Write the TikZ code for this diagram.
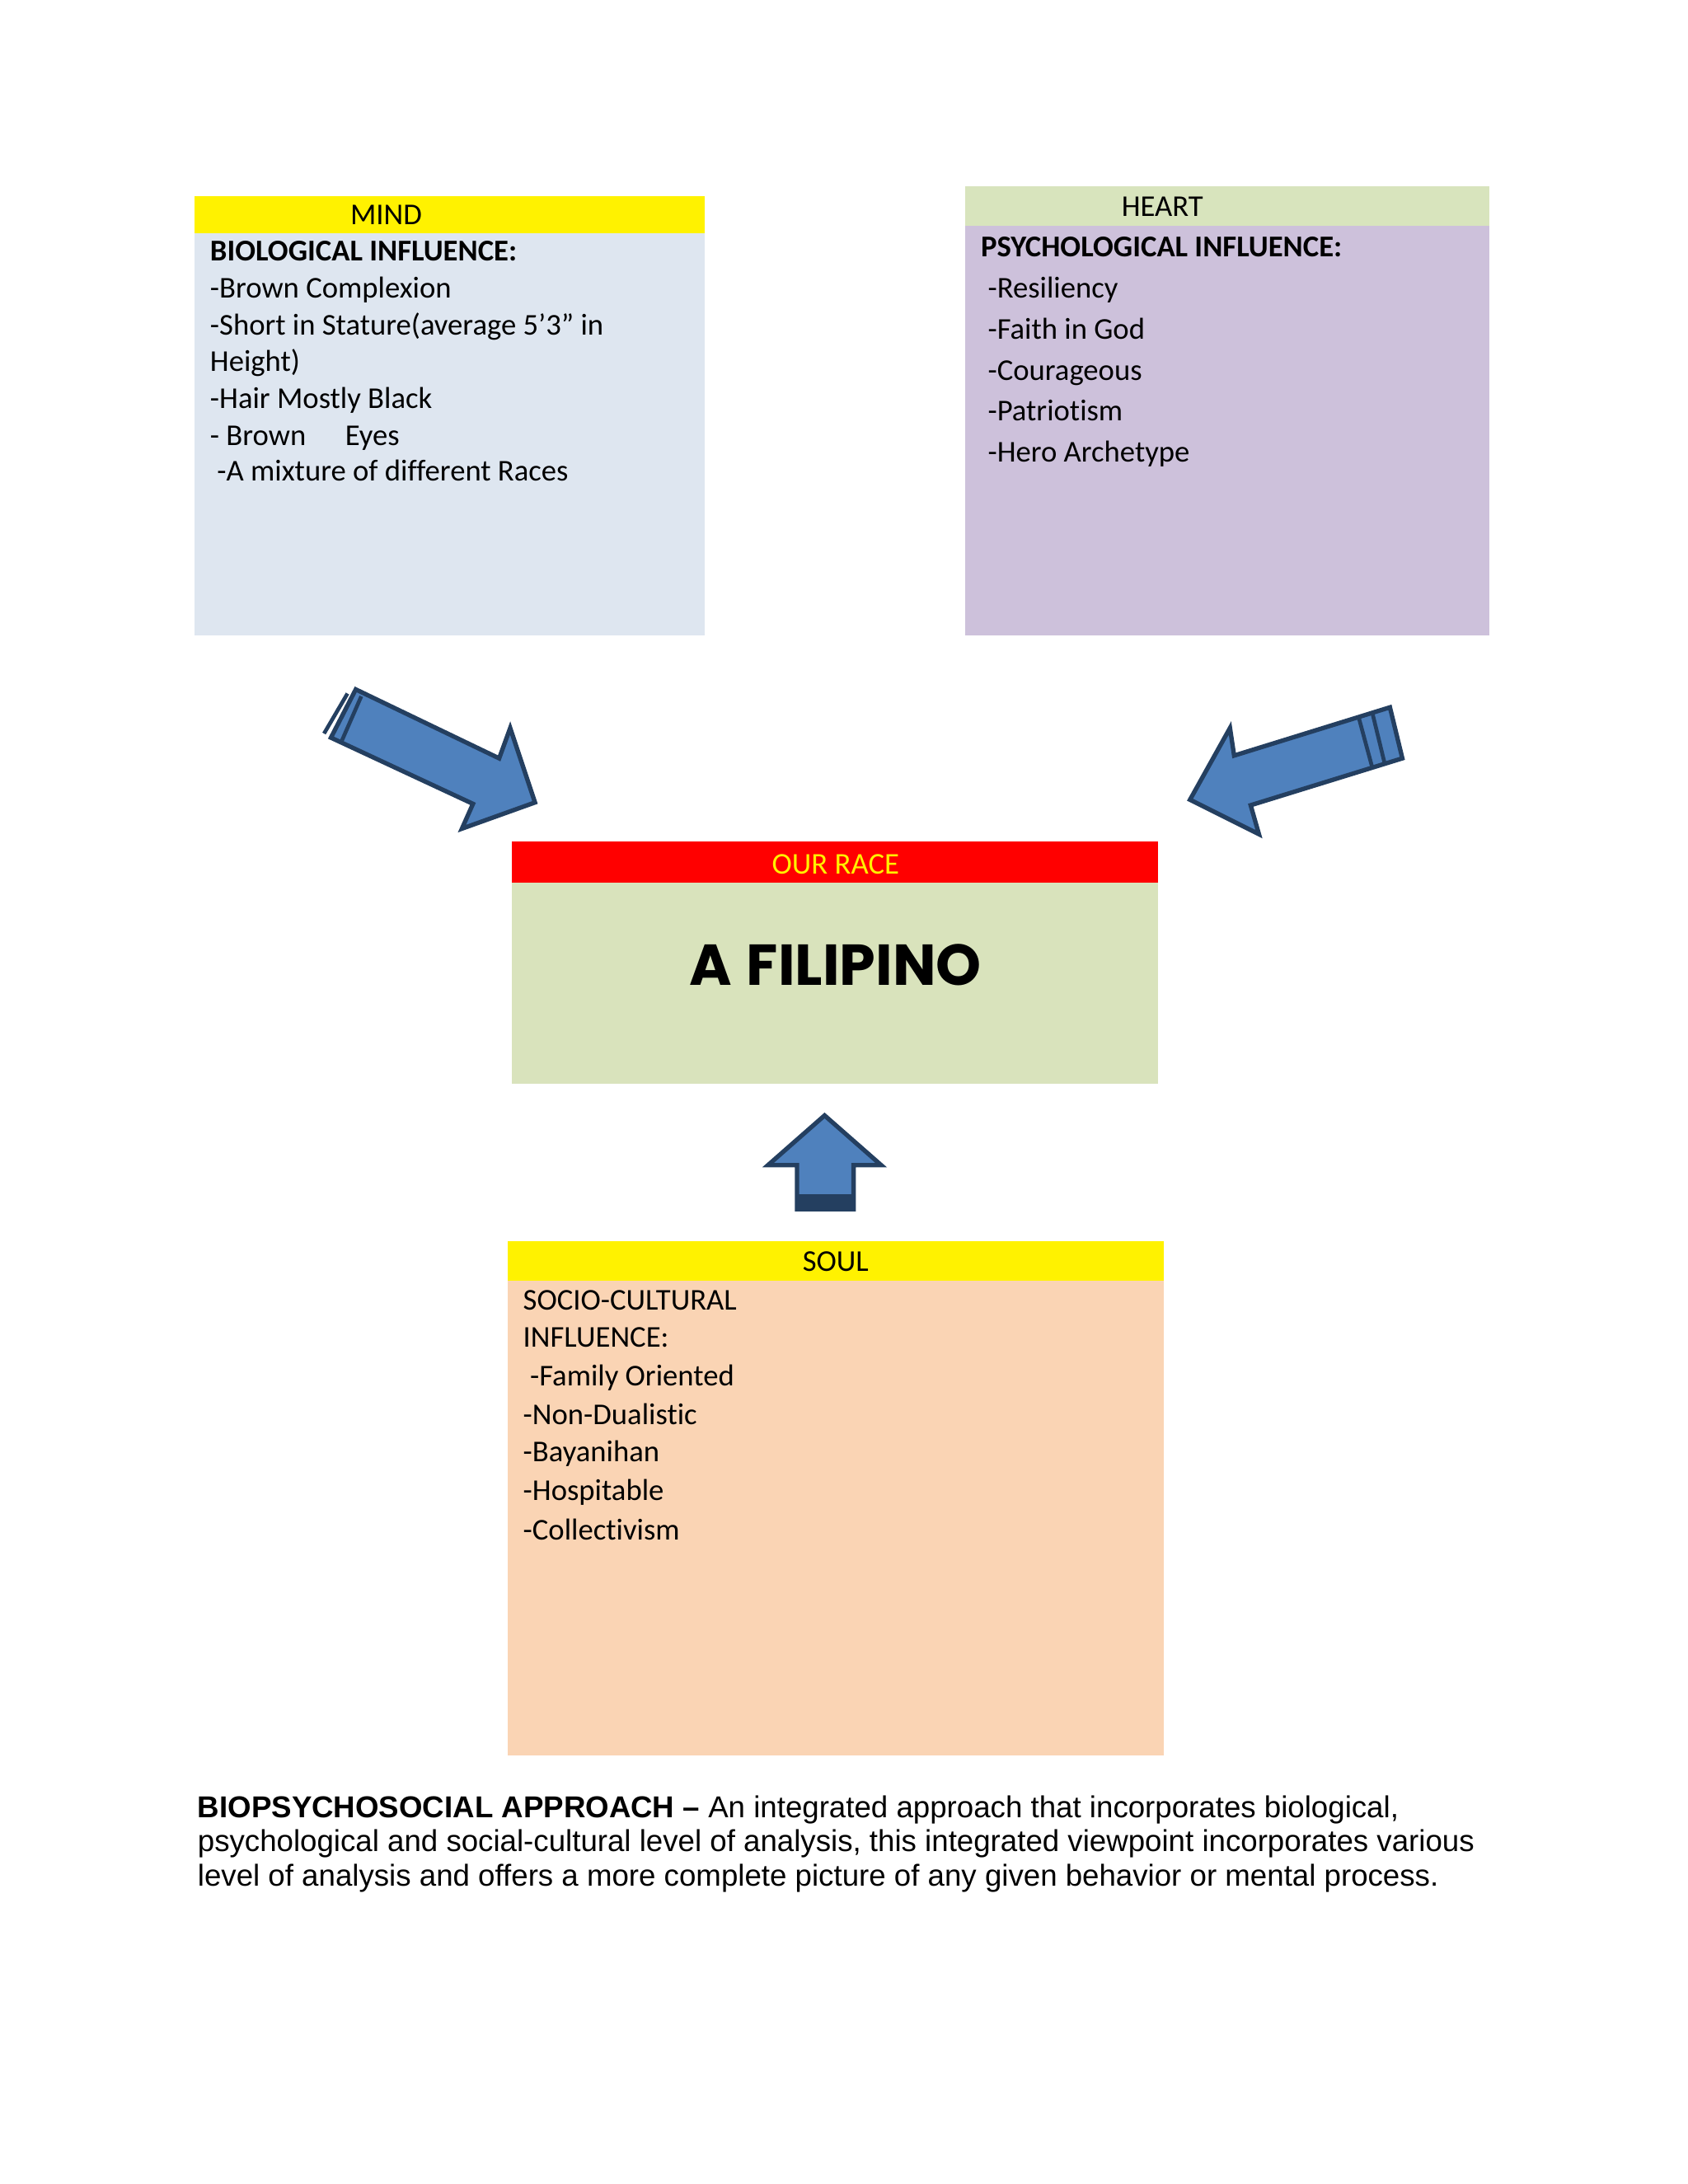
\documentclass[tikz,border=0pt]{standalone}
\usepackage{fontspec}
\setmainfont{Carlito}[Ligatures=NoCommon]
\newfontfamily\arialf{Liberation Sans}
\newfontfamily\comicf{Poppins}
\begin{document}
\begin{tikzpicture}[x=0.5bp,y=-0.5bp,
  txt/.style={anchor=base west,inner sep=0pt,font=\fontsize{11}{13}\selectfont},
  hdr/.style={inner sep=0pt,font=\fontsize{11}{13}\selectfont},
  desc/.style={anchor=base west,inner sep=0pt,font=\arialf\fontsize{11}{12.5}\selectfont},
  arr/.style={fill=arrowblue,draw=arrowdark,line width=1.6pt,line join=miter}]
\definecolor{mindbg}{HTML}{DEE6F0}
\definecolor{heartbg}{HTML}{CDC1DB}
\definecolor{hearthd}{HTML}{D8E4BD}
\definecolor{racebg}{HTML}{D9E3BC}
\definecolor{soulbg}{HTML}{FAD4B4}
\definecolor{arrowblue}{HTML}{4F81BD}
\definecolor{arrowdark}{HTML}{243F60}
\useasboundingbox (0,0) rectangle (1224,1584);
\fill[white] (0,0) rectangle (1224,1584);
% MIND
\fill[yellow] (141,142) rectangle (511,169);
\fill[mindbg] (141,169) rectangle (511,461);
\node[hdr] (mindh) at (280,156) {MIND};
\node[txt] (m1) at (152,189) {\bfseries BIOLOGICAL INFLUENCE:};
\node[txt] (m2) at (152,216) {-Brown Complexion};
\node[txt] (m3) at (152,243) {-Short in Stature(average 5’3” in};
\node[txt] (m4) at (152,269) {Height)};
\node[txt] (m5) at (152,296) {-Hair Mostly Black};
\node[txt] (m6) at (152,323) {- Brown\hspace{1.3em}Eyes};
\node[txt] (m7) at (157,349) {-A mixture of different Races};
% HEART
\fill[hearthd] (700,135) rectangle (1080,164);
\fill[heartbg] (700,164) rectangle (1080,461);
\node[hdr] (hearth) at (843,150) {HEART};
\node[txt] (h1) at (711,186) {\bfseries PSYCHOLOGICAL INFLUENCE:};
\node[txt] (h2) at (716,216) {-Resiliency};
\node[txt] (h3) at (716,246) {-Faith in God};
\node[txt] (h4) at (716,276) {-Courageous};
\node[txt] (h5) at (716,305) {-Patriotism};
\node[txt] (h6) at (716,335) {-Hero Archetype};
% OUR RACE
\fill[red] (371,610) rectangle (840,640);
\fill[racebg] (371,640) rectangle (840,786);
\node[hdr,text=yellow] (raceh) at (606,627) {OUR RACE};
\node[inner sep=0pt,font=\comicf\bfseries\fontsize{21}{24}\selectfont] (fil) at (606,700) {A\hspace{0.25em}FILIPINO};
% SOUL
\fill[yellow] (368,900) rectangle (844,929);
\fill[soulbg] (368,929) rectangle (844,1273);
\node[hdr] (soulh) at (606,915) {SOUL};
\node[txt] (s1) at (379,950) {SOCIO-CULTURAL};
\node[txt] (s2) at (379,977) {INFLUENCE:};
\node[txt] (s3) at (384,1005) {-Family Oriented};
\node[txt] (s4) at (379,1033) {-Non-Dualistic};
\node[txt] (s5) at (379,1060) {-Bayanihan};
\node[txt] (s6) at (379,1088) {-Hospitable};
\node[txt] (s7) at (379,1117) {-Collectivism};
% arrows
\draw[arr] (258,500) -- (362,550) -- (370,528) -- (388,582) -- (335,601) -- (343,583) -- (240,535) -- cycle;
\draw[arrowdark,line width=1.4pt] (252,503) -- (235,532) (262,505) -- (248,537);
\draw[arr] (1008,513) -- (1017,550) -- (907,584) -- (913,605) -- (863,580) -- (892,528) -- (895,548) -- cycle;
\draw[arrowdark,line width=1.4pt] (985,519) -- (995,556) (995,516) -- (1004,553);
\draw[arr] (598,809) -- (639,845) -- (619,845) -- (619,877) -- (578,877) -- (578,845) -- (557,845) -- cycle;
\fill[arrowdark] (578,866) rectangle (619,877);
% bottom text
\node[desc] (d1) at (143,1318) {\bfseries BIOPSYCHOSOCIAL APPROACH –\mdseries{} An integrated approach that incorporates biological,};
\node[desc] (d2) at (143,1343) {psychological and social-cultural level of analysis, this integrated viewpoint incorporates various};
\node[desc] (d3) at (143,1368) {level of analysis and offers a more complete picture of any given behavior or mental process.};
\end{tikzpicture}
\end{document}
